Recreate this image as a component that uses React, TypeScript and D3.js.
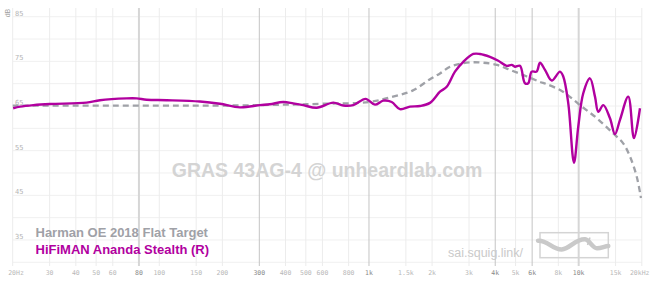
import React from "react";
import * as d3 from "d3";

const W = 654;
const H = 283;

// Harman OE 2018 target
const targetFreq = [20, 100, 200, 400, 600, 1000, 1302, 1621, 1954, 2181, 2434, 2808, 3133, 3498, 4077, 4702, 5668, 6539, 7038, 8417, 10144, 12183, 14573, 16266, 17564, 18911, 19820];
const targetDb = [65.1, 65.1, 65.1, 65.3, 65.5, 65.9, 67.1, 68.5, 71.0, 72.3, 73.8, 74.6, 74.8, 74.7, 74.2, 73.1, 71.6, 70.4, 69.9, 68.2, 65.2, 62.3, 58.9, 56.7, 53.7, 49.2, 44.4];

// HiFiMAN Ananda Stealth (R)
const measFreq = [20.1, 21.7, 25.1, 30.1, 45, 52.1, 69.9, 78, 87.1, 108.5, 156.3, 194.7, 242.6, 302, 337, 390, 435, 486, 563, 676, 754, 842, 964, 1068, 1170, 1283, 1405, 1569, 1751, 1954, 2181, 2348, 2571, 2817, 3144, 3383, 3776, 4136, 4537, 4793, 4969, 5249, 5544, 5750, 5969, 6305, 6539, 6908, 7435, 8143, 8443, 8921, 9497, 9956, 10517, 11322, 11962, 12405, 13104, 14103, 14898, 15740, 17239, 18350, 19605];
const measDb = [64.5, 64.85, 65.2, 65.45, 65.75, 66.3, 66.7, 66.7, 66.4, 66.3, 66.0, 65.5, 64.7, 65.2, 65.4, 65.9, 65.6, 65.2, 64.6, 65.75, 65.1, 65.2, 66.6, 65.3, 66.2, 65.9, 64.3, 64.85, 65.0, 65.7, 68.2, 69.3, 72.7, 74.9, 76.65, 76.65, 76.0, 75.15, 74.0, 74.2, 73.8, 74.0, 70.1, 70.1, 72.7, 72.7, 74.7, 73.1, 70.7, 72.7, 71.6, 65.6, 52.3, 60.4, 67.85, 71.2, 67.1, 63.7, 65.2, 62.25, 58.7, 61.9, 67.1, 57.8, 64.5];

const yTicks = [85, 75, 65, 55, 45, 35];
const yGrid = [30, 35, 40, 45, 50, 55, 60, 65, 70, 75, 80, 85];
const xTickVals = [20, 30, 40, 50, 60, 80, 100, 150, 200, 300, 400, 500, 600, 800, 1000, 1500, 2000, 3000, 4000, 5000, 6000, 8000, 10000, 15000, 20000];
const xTickLabels = ["20Hz", "30", "40", "50", "60", "80", "100", "150", "200", "300", "400", "500", "600", "800", "1k", "1.5k", "2k", "3k", "4k", "5k", "6k", "8k", "10k", "15k", "20kHz"];
const strongTicks = [300, 1000, 4000, 6000];
const thickTicks = [80, 10000];

const legendNames = ["Harman OE 2018 Flat Target", "HiFiMAN Ananda Stealth (R)"];
const legendColors = ["#9fa1a7", "#b1009f"];

export default function App() {
  const x = d3.scaleLog().domain([20, 20000]).range([12.7, 641.8]);
  const y = d3.scaleLinear().domain([30, 85]).range([262.3, 16.7]);

  const targetPts = targetFreq.map((f, i) => [f, targetDb[i]] as [number, number]);
  const measPts = measFreq.map((f, i) => [f, measDb[i]] as [number, number]);

  const line = d3
    .line<[number, number]>()
    .x((d) => x(d[0]))
    .y((d) => y(d[1]))
    .curve(d3.curveCatmullRom.alpha(0.5));

  const mono = "'DejaVu Sans Mono', monospace";
  const sans = "'Liberation Sans', Arial, sans-serif";

  return (
    <svg
      width={W}
      height={H}
      style={{ position: "absolute", left: 0, top: 0, background: "#fff" }}
    >
      {/* horizontal grid */}
      {yGrid.map((d) => (
        <line key={"h" + d} x1={12.7} x2={641.8} y1={y(d)} y2={y(d)} stroke="#f0f0f0" strokeWidth={1} />
      ))}
      {/* vertical grid */}
      {xTickVals.map((f) => {
        const strong = strongTicks.includes(f);
        const thick = thickTicks.includes(f);
        return (
          <line
            key={"v" + f}
            x1={x(f)}
            x2={x(f)}
            y1={8}
            y2={266}
            stroke={thick ? "#d6d6d6" : strong ? "#c4c4c4" : "#ececec"}
            strokeWidth={thick ? 2 : 1}
          />
        );
      })}
      {/* y tick labels */}
      {yTicks.map((d) => (
        <text key={"yt" + d} x={15} y={y(d) - 1} fontFamily={mono} fontSize={7} fill="#b4b4b4">
          {d}
        </text>
      ))}
      <text
        transform="translate(10,13) rotate(-90)"
        textAnchor="middle"
        fontFamily={sans}
        fontSize={7}
        fill="#a0a0a0"
      >
        dB
      </text>
      {/* x tick labels */}
      {xTickVals.map((f, i) => {
        const strong = strongTicks.includes(f) || thickTicks.includes(f);
        let anchor: "start" | "middle" | "end" = "middle";
        let xx = x(f);
        if (i === 0) {
          anchor = "start";
          xx = x(f) - 4.5;
        } else if (i === xTickVals.length - 1) {
          anchor = "end";
          xx = x(f) + 7.7;
        }
        return (
          <text
            key={"xt" + f}
            x={xx}
            y={274.5}
            textAnchor={anchor}
            fontFamily={mono}
            fontSize={6.5}
            fill={strong ? "#888" : "#b8b8b8"}
          >
            {xTickLabels[i]}
          </text>
        );
      })}
      {/* watermark */}
      <text
        x={327}
        y={177}
        textAnchor="middle"
        fontFamily={sans}
        fontWeight="bold"
        fontSize={19.5}
        fill="#d4d4d4"
      >
        GRAS 43AG-4 @ unheardlab.com
      </text>
      <text x={448} y={256.5} fontFamily={sans} fontSize={12.5} fill="#cacaca">
        sai.squig.link/
      </text>
      <rect x={540} y={232.7} width={68.3} height={25} fill="none" stroke="#d4d4d4" strokeWidth={1.5} />
      <path
        d="M538,240.7 C548,240 552,249.5 561.7,249.5 C570,249 575,239 585,239.3 C590,240 592,248 597,248.3 C601,248.5 605,246 608.3,246"
        fill="none"
        stroke="#c9c9c9"
        strokeWidth={4.5}
        strokeLinecap="round"
      />
      <path d="M590,237.5 L587.5,245" fill="none" stroke="#c9c9c9" strokeWidth={1.5} />
      {/* curves */}
      <path
        d={line(targetPts) || ""}
        fill="none"
        stroke="#9fa1a7"
        strokeWidth={2.3}
        strokeDasharray="6,4"
      />
      <path d={line(measPts) || ""} fill="none" stroke="#b1009f" strokeWidth={2.4} strokeLinejoin="round" />
      {/* legend */}
      {legendNames.map((n, i) => (
        <text
          key={n}
          x={35.5}
          y={236.5 + i * 17.5}
          fontFamily={sans}
          fontWeight="bold"
          fontSize={13}
          fill={legendColors[i]}
        >
          {n}
        </text>
      ))}
    </svg>
  );
}
